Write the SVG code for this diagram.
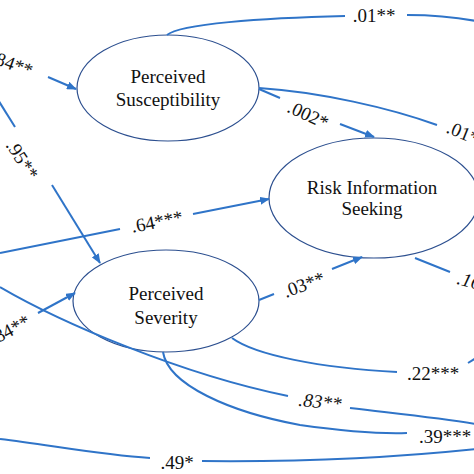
<svg xmlns="http://www.w3.org/2000/svg" width="474" height="474" viewBox="0 0 474 474">
<defs>
<style>
.node{fill:#fff;stroke:#2c4f8f;stroke-width:1.2}
.conn{fill:none;stroke:#2f74c8;stroke-width:2}
.t{font-family:"Liberation Serif","Times New Roman",serif;font-size:19px;fill:#111;text-anchor:middle}
.lab{font-family:"Liberation Serif","Times New Roman",serif;font-size:19px;fill:#111;text-anchor:middle}
.it{font-style:italic}
</style>
<marker id="ah" markerWidth="10" markerHeight="8" refX="9" refY="4" orient="auto" markerUnits="userSpaceOnUse">
<path d="M0,0 L10,4 L0,8 Z" fill="#2f74c8"/>
</marker>
</defs>
<rect width="474" height="474" fill="#fff"/>
<g id="perceived-susceptibility">
<ellipse class="node" cx="168" cy="88" rx="91" ry="53"/>
<text class="t" x="168" y="83">Perceived</text>
<text class="t" x="168" y="106">Susceptibility</text>
</g>
<g id="risk-information-seeking">
<ellipse class="node" cx="374" cy="198" rx="105" ry="60"/>
<text class="t" x="372" y="194">Risk Information</text>
<text class="t" x="372" y="215">Seeking</text>
</g>
<g id="perceived-severity">
<ellipse class="node" cx="166" cy="301" rx="93" ry="51"/>
<text class="t" x="166" y="300">Perceived</text>
<text class="t" x="166" y="324">Severity</text>
</g>
<g id="connectors">
<path class="conn" d="M167,35 C180,24 260,18 345,16"/>
<path class="conn" d="M407,15 C430,15 455,17 476,21"/>
<path class="conn" d="M259,88 C320,92 390,108 437,125"/>
<path class="conn" d="M259,89 L280,98"/>
<path class="conn" d="M340,124 L374,137" marker-end="url(#ah)"/>
<path class="conn" d="M0,253 L120,229"/>
<path class="conn" d="M193,214 L269,199" marker-end="url(#ah)"/>
<path class="conn" d="M-5,95 L15,127"/>
<path class="conn" d="M52,185 L100,263" marker-end="url(#ah)"/>
<path class="conn" d="M48,77 L76,89" marker-end="url(#ah)"/>
<path class="conn" d="M38,313 L75,293" marker-end="url(#ah)"/>
<path class="conn" d="M0,287 C60,322 180,374 288,396"/>
<path class="conn" d="M350,408 C400,414 440,418 476,424"/>
<path class="conn" d="M0,439 C50,445 100,455 150,458"/>
<path class="conn" d="M202,461 C300,462 400,457 476,449"/>
<path class="conn" d="M259,300 L274,294"/>
<path class="conn" d="M332,269 L362,257" marker-end="url(#ah)"/>
<path class="conn" d="M415,258 L450,272"/>
<path class="conn" d="M232,338 C255,355 320,368 397,372"/>
<path class="conn" d="M468,363 L476,358"/>
<path class="conn" d="M163,352 C168,385 230,412 300,425 C350,432 380,434 407,433"/>
</g>
<g id="labels">
<text class="lab" x="374" y="22">.01**</text>
<text class="lab" transform="translate(463,133) rotate(22)" y="6">.01*</text>
<text class="lab" transform="translate(308,115) rotate(25)" y="6">.002*</text>
<text class="lab" transform="translate(157,222) rotate(-11)" y="6">.64***</text>
<text class="lab" transform="translate(22,160) rotate(57)" y="6">.95**</text>
<text class="lab" transform="translate(12,64) rotate(20)" y="6">.84**</text>
<text class="lab" transform="translate(10,330) rotate(-28)" y="6">.84**</text>
<text class="lab" transform="translate(304,285) rotate(-20)" y="6">.03**</text>
<text class="lab it" transform="translate(469,281) rotate(15)" y="6">.16</text>
<text class="lab it" transform="translate(320,402) rotate(6)" y="6">.83**</text>
<text class="lab" x="433" y="380">.22***</text>
<text class="lab" x="445" y="443">.39***</text>
<text class="lab" x="177" y="469">.49*</text>
</g>
</svg>
